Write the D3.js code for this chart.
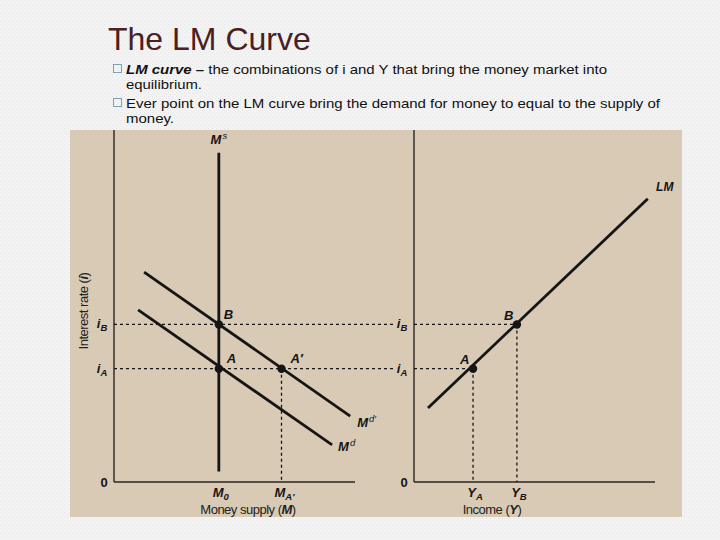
<!DOCTYPE html>
<html>
<head>
<meta charset="utf-8">
<script src="https://cdn.jsdelivr.net/npm/d3@7"></script>
<style>
  body { margin: 0; background: #f0f0f0; }
  svg { display: block; font-family: "Liberation Sans", Arial, sans-serif; }
</style>
</head>
<body>
<div id="chart"></div>
<script>
// interest rate levels (iA, iB)
var rateLabels = ["A", "B"];
var rates = [3.2, 4.45];

// money market (left panel)
var moneySupply = 4.35;          // M0
var moneyAtAPrime = 6.95;        // MA'
var msRange = [0.3, 9.3];        // vertical extent of Ms
var mdPoints = [[1.0, 4.86], [9.05, 1.05]];
var mdPrimePoints = [[1.25, 5.93], [9.8, 1.86]];

// LM curve (right panel)
var incomeLevels = [2.45, 4.27]; // YA, YB
var lmPoints = [[0.58, 2.09], [9.7, 8.0]];

var bullets = [
  { bold: "LM curve \u2013", rest: " the combinations of i and Y that bring the money market into", cont: "equilibrium.", w: 481 },
  { bold: "", rest: "Ever point on the LM curve bring the demand for money to equal to the supply of", cont: "money.", w: 534 }
];

var width = 720, height = 540;

var svg = d3.select("#chart").append("svg")
  .attr("width", width)
  .attr("height", height);

// slide background texture
var defs = svg.append("defs");
var pat = defs.append("pattern").attr("id", "tex")
  .attr("width", 4).attr("height", 4).attr("patternUnits", "userSpaceOnUse");
pat.append("rect").attr("width", 4).attr("height", 4).attr("fill", "#f3f3f3");
pat.append("rect").attr("width", 1).attr("height", 1).attr("fill", "#e4e4e4");
pat.append("rect").attr("x", 2).attr("y", 2).attr("width", 1).attr("height", 1).attr("fill", "#e6e6e6");
svg.append("rect").attr("width", width).attr("height", height).attr("fill", "url(#tex)");

// title
svg.append("text")
  .attr("x", 108).attr("y", 50)
  .attr("font-size", 32)
  .attr("fill", "#4a2020")
  .text("The LM Curve");

// bullets
var by = [74, 108];
bullets.forEach(function (b, i) {
  svg.append("rect")
    .attr("x", 113.5).attr("y", by[i] - 9.5)
    .attr("width", 8).attr("height", 8)
    .attr("fill", "none").attr("stroke", "#7aa3b5").attr("stroke-width", 1);
  var t = svg.append("text")
    .attr("x", 126).attr("y", by[i])
    .attr("font-size", 13)
    .attr("textLength", b.w).attr("lengthAdjust", "spacingAndGlyphs")
    .attr("fill", "#111");
  if (b.bold) {
    t.append("tspan").attr("font-weight", "bold").attr("font-style", "italic").text(b.bold);
  }
  t.append("tspan").text(b.rest);
  svg.append("text")
    .attr("x", 126).attr("y", by[i] + 15)
    .attr("font-size", 13)
    .attr("textLength", b.cont.length > 8 ? 76 : 48).attr("lengthAdjust", "spacingAndGlyphs")
    .attr("fill", "#111")
    .text(b.cont);
});

// figure panel
svg.append("rect")
  .attr("x", 70).attr("y", 130)
  .attr("width", 612).attr("height", 387)
  .attr("fill", "#d9cab5");

// scales
var yScale = d3.scaleLinear().domain([0, 10]).range([482, 128]);
var xLeft = d3.scaleLinear().domain([0, 10]).range([114, 355]);
var xRight = d3.scaleLinear().domain([0, 10]).range([414, 655]);

var ink = "#151515";
var line = function (xs) {
  return d3.line().x(function (d) { return xs(d[0]); }).y(function (d) { return yScale(d[1]); });
};

function axes(xs, xMax) {
  svg.append("line")
    .attr("x1", xs(0)).attr("x2", xs(0))
    .attr("y1", 130).attr("y2", yScale(0))
    .attr("stroke", "#2a2620").attr("stroke-width", 1.4);
  svg.append("line")
    .attr("x1", xs(0)).attr("x2", xs(xMax))
    .attr("y1", yScale(0)).attr("y2", yScale(0))
    .attr("stroke", "#2a2620").attr("stroke-width", 1.4);
  svg.append("text")
    .attr("x", xs(0) - 10).attr("y", yScale(0) + 5)
    .attr("text-anchor", "middle")
    .attr("font-size", 13).attr("font-weight", "bold")
    .attr("fill", ink).text("0");
}
axes(xLeft, 10);
axes(xRight, 10);

// dashed rate lines
var dash = "3,3";
rates.forEach(function (r, i) {
  var xEnd = xRight(incomeLevels[i]);
  svg.append("line")
    .attr("x1", xLeft(0)).attr("x2", xRight(0) - 20)
    .attr("y1", yScale(r)).attr("y2", yScale(r))
    .attr("stroke", ink).attr("stroke-width", 1.3).attr("stroke-dasharray", dash);
  svg.append("line")
    .attr("x1", xRight(0)).attr("x2", xEnd)
    .attr("y1", yScale(r)).attr("y2", yScale(r))
    .attr("stroke", ink).attr("stroke-width", 1.3).attr("stroke-dasharray", dash);
  // vertical dashed to Y axis
  svg.append("line")
    .attr("x1", xEnd).attr("x2", xEnd)
    .attr("y1", yScale(r)).attr("y2", yScale(0))
    .attr("stroke", ink).attr("stroke-width", 1.3).attr("stroke-dasharray", dash);
  // rate labels, both panels
  [xLeft(0) - 12, xRight(0) - 12].forEach(function (x) {
    var t = svg.append("text")
      .attr("x", x).attr("y", yScale(r) + 4)
      .attr("text-anchor", "middle")
      .attr("font-size", 13).attr("font-style", "italic").attr("font-weight", "bold")
      .attr("fill", ink);
    t.append("tspan").text("i");
    t.append("tspan").attr("font-size", 9.5).attr("dy", 3).text(rateLabels[i]);
  });
});

// dashed line down from A'
svg.append("line")
  .attr("x1", xLeft(moneyAtAPrime)).attr("x2", xLeft(moneyAtAPrime))
  .attr("y1", yScale(rates[0])).attr("y2", yScale(0))
  .attr("stroke", ink).attr("stroke-width", 1.3).attr("stroke-dasharray", dash);

// money supply line
svg.append("path")
  .attr("d", line(xLeft)([[moneySupply, msRange[0]], [moneySupply, msRange[1]]]))
  .attr("stroke", ink).attr("stroke-width", 2.8).attr("fill", "none");

// demand curves
[mdPoints, mdPrimePoints].forEach(function (pts) {
  svg.append("path")
    .attr("d", line(xLeft)(pts))
    .attr("stroke", ink).attr("stroke-width", 2.8).attr("fill", "none");
});

// LM curve
svg.append("path")
  .attr("d", line(xRight)(lmPoints))
  .attr("stroke", ink).attr("stroke-width", 2.8).attr("fill", "none");

// points
var dots = [
  [xLeft(moneySupply), rates[0]], [xLeft(moneySupply), rates[1]], [xLeft(moneyAtAPrime), rates[0]],
  [xRight(incomeLevels[0]), rates[0]], [xRight(incomeLevels[1]), rates[1]]
];
svg.selectAll(".dot").data(dots).enter().append("circle")
  .attr("class", "dot")
  .attr("cx", function (d) { return d[0]; })
  .attr("cy", function (d) { return yScale(d[1]); })
  .attr("r", 4.2)
  .attr("fill", ink);

// labels
function label(x, y, main, sup, sub, anchor, size) {
  var t = svg.append("text")
    .attr("x", x).attr("y", y)
    .attr("text-anchor", anchor || "start")
    .attr("font-size", size || 13)
    .attr("font-style", "italic").attr("font-weight", "bold")
    .attr("fill", ink);
  t.append("tspan").text(main);
  if (sup) t.append("tspan").attr("font-size", 9.5).attr("font-weight", "normal").attr("dx", 1).attr("dy", -5).text(sup);
  if (sub) t.append("tspan").attr("font-size", 9.5).attr("dy", 3).text(sub);
  return t;
}

label(xLeft(moneySupply), 144, "M", "s", null, "middle");
label(xLeft(moneySupply) + 5, yScale(rates[1]) - 5, "B");
label(xLeft(moneySupply) + 8, yScale(rates[0]) - 6, "A");
label(xLeft(moneyAtAPrime) + 9, yScale(rates[0]) - 6, "A\u2032");
label(xLeft(mdPrimePoints[1][0]) + 7, yScale(mdPrimePoints[1][1]) + 11, "M", "d\u2032");
label(xLeft(mdPoints[1][0]) + 6, yScale(mdPoints[1][1]) + 6, "M", "d");
label(xLeft(moneySupply) + 2, 497, "M", null, "0", "middle");
label(xLeft(moneyAtAPrime) + 3, 497, "M", null, "A\u2032", "middle");

label(xRight(incomeLevels[1]) - 13, yScale(rates[1]) - 4, "B");
label(xRight(incomeLevels[0]) - 13, yScale(rates[0]) - 5, "A");
label(xRight(incomeLevels[0]) + 2, 497, "Y", null, "A", "middle");
label(xRight(incomeLevels[1]) + 2, 497, "Y", null, "B", "middle");
label(xRight(lmPoints[1][0]) + 17, yScale(lmPoints[1][1]) - 8, "LM", null, null, "middle", 12);

// axis titles
function axisTitle(x, y, word, sym, rotate) {
  var t = svg.append("text")
    .attr("transform", "translate(" + x + "," + y + ")" + (rotate ? " rotate(-90)" : ""))
    .attr("text-anchor", "middle").attr("font-size", 13)
    .attr("letter-spacing", -0.5)
    .attr("fill", "#222");
  t.append("tspan").text(word + " (");
  t.append("tspan").attr("font-style", "italic").attr("font-weight", "bold").text(sym);
  t.append("tspan").text(")");
}
axisTitle(248, 514, "Money supply", "M");
axisTitle(492, 514, "Income", "Y");
axisTitle(88, 311, "Interest rate", "i", true);
</script>
</body>
</html>
